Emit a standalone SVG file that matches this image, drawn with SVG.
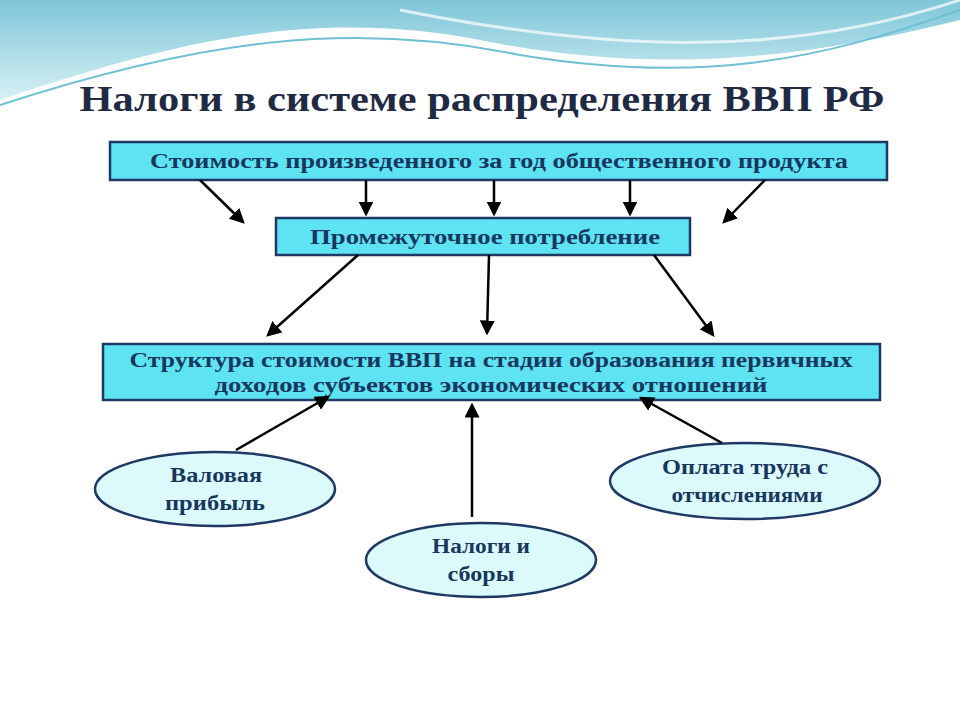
<svg xmlns="http://www.w3.org/2000/svg" width="960" height="720" viewBox="0 0 960 720">
<defs>
<linearGradient id="wave" x1="0" y1="0" x2="0" y2="1"><stop offset="0" stop-color="#7EC6D8"/><stop offset="1" stop-color="#D8F0F5"/></linearGradient>
<marker id="ah" markerWidth="6" markerHeight="6" refX="5" refY="3" orient="auto" markerUnits="strokeWidth"><path d="M0,0 L6,3 L0,6 z" fill="#000"/></marker>
<style>
.box{fill:#5EE3F2;stroke:#1F3864;stroke-width:2.5}
.ell{fill:#DCFAFC;stroke:#1F3864;stroke-width:2.5}
.t{font-family:"Liberation Serif",serif;font-weight:bold;fill:#17375E;text-anchor:middle}
.c line{stroke:#000;stroke-width:2.5;marker-end:url(#ah)}
</style>
</defs>
<rect width="960" height="720" fill="#fff"/>
<path d="M0,0 H960 V20 C800,60 650,75 480,40 C300,5 150,50 0,100 Z" fill="url(#wave)"/>
<path d="M0,105 C200,40 350,20 520,55 C700,85 820,60 960,10" fill="none" stroke="#6FC0D5" stroke-width="2"/>
<path d="M400,10 C600,50 780,60 960,0" fill="none" stroke="#fff" stroke-width="3" opacity="0.7"/>
<text class="t" x="482" y="111" font-size="36" textLength="805" lengthAdjust="spacingAndGlyphs" style="fill:#1F2A44">Налоги в системе распределения ВВП РФ</text>
<g id="n1"><rect class="box" x="110" y="142" width="777" height="38"/><text class="t" x="499" y="168" font-size="20" textLength="698" lengthAdjust="spacingAndGlyphs">Стоимость произведенного за год общественного продукта</text></g>
<g id="n2"><rect class="box" x="276" y="218" width="414" height="37"/><text class="t" x="485" y="244" font-size="20" textLength="350" lengthAdjust="spacingAndGlyphs">Промежуточное потребление</text></g>
<g id="n3"><rect class="box" x="103" y="344" width="777" height="56"/><text class="t" x="491" y="367" font-size="20" textLength="723" lengthAdjust="spacingAndGlyphs">Структура стоимости ВВП на стадии образования первичных</text><text class="t" x="491" y="392" font-size="20" textLength="553" lengthAdjust="spacingAndGlyphs">доходов субъектов экономических отношений</text></g>
<g id="n4"><ellipse class="ell" cx="215" cy="489" rx="120" ry="37"/><text class="t" x="216" y="482" font-size="20" textLength="92" lengthAdjust="spacingAndGlyphs">Валовая</text><text class="t" x="215" y="510" font-size="20" textLength="100" lengthAdjust="spacingAndGlyphs">прибыль</text></g>
<g id="n5"><ellipse class="ell" cx="481" cy="560" rx="115" ry="37"/><text class="t" x="481" y="553" font-size="20" textLength="98" lengthAdjust="spacingAndGlyphs">Налоги и</text><text class="t" x="481" y="581" font-size="20" textLength="67" lengthAdjust="spacingAndGlyphs">сборы</text></g>
<g id="n6"><ellipse class="ell" cx="745" cy="481" rx="135" ry="38"/><text class="t" x="745" y="474" font-size="20" textLength="166" lengthAdjust="spacingAndGlyphs">Оплата труда с</text><text class="t" x="747" y="502" font-size="20" textLength="151" lengthAdjust="spacingAndGlyphs">отчислениями</text></g>
<g class="c" id="connectors">
<line x1="200" y1="180" x2="243" y2="222"/>
<line x1="366" y1="180" x2="366" y2="214"/>
<line x1="494" y1="180" x2="494" y2="214"/>
<line x1="630" y1="180" x2="630" y2="214"/>
<line x1="765" y1="180" x2="724" y2="222"/>
<line x1="358" y1="255" x2="268" y2="335"/>
<line x1="489" y1="255" x2="487" y2="333"/>
<line x1="654" y1="255" x2="713" y2="335"/>
<line x1="236" y1="450" x2="328" y2="397"/>
<line x1="472" y1="517" x2="472" y2="405"/>
<line x1="722" y1="443" x2="641" y2="398"/>
</g>
</svg>
